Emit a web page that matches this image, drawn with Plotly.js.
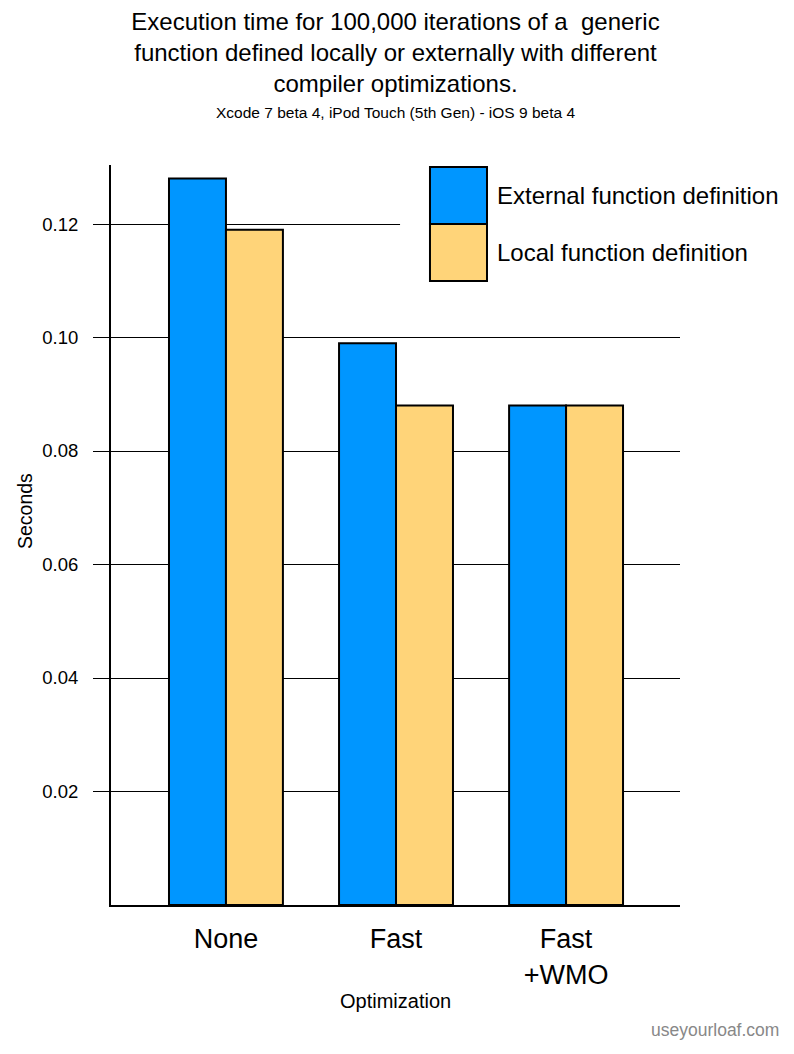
<!DOCTYPE html>
<html>
<head>
<meta charset="utf-8">
<script src="https://cdn.plot.ly/plotly-3.0.1.min.js"></script>
<style>
  body { margin: 0; background: #fff; }
  #chart { width: 794px; height: 1054px; }
</style>
</head>
<body>
<div id="chart"></div>
<script>
const categories = ["None", "Fast", "Fast<br>+WMO"]
const externalTimes = [0.128, 0.099, 0.088]
const localTimes = [0.119, 0.088, 0.088]
const seriesNames = ["External function definition", "Local function definition"]
const seriesColors = ["#0096ff", "#ffd479"]
const yTicks = [0.02, 0.04, 0.06, 0.08, 0.10, 0.12]

const font = "Liberation Sans, Arial, sans-serif"

const data = [externalTimes, localTimes].map((vals, i) => ({
  type: "bar",
  x: categories,
  y: vals,
  name: seriesNames[i],
  marker: { color: seriesColors[i], line: { color: "#000", width: 2 } },
  hoverinfo: "y",
}))

// legend drawn by hand, big square swatches like the original
const shapes = [
  // white patch hides the gridline behind the legend
  { type: "rect", xref: "paper", yref: "paper", x0: 0.508, x1: 1.2, y0: 0.83, y1: 0.999,
    fillcolor: "#fff", line: { width: 0 }, layer: "above" },
]
const annotations = []
seriesNames.forEach((name, i) => {
  const top = 0.9973 - i * 0.077
  shapes.push({
    type: "rect", xref: "paper", yref: "paper",
    x0: 0.5606, x1: 0.6608, y0: top - 0.077, y1: top,
    fillcolor: seriesColors[i], line: { color: "#000", width: 2 },
  })
  annotations.push({
    xref: "paper", yref: "paper", x: 0.675, y: top - 0.0385,
    xanchor: "left", yanchor: "middle", showarrow: false,
    text: name, font: { family: font, size: 24, color: "#000" },
  })
})
annotations.push({
  xref: "paper", yref: "paper", x: 0.5, y: 1.0703, showarrow: false,
  text: "Xcode 7 beta 4, iPod Touch (5th Gen) - iOS 9 beta 4",
  font: { family: font, size: 15.5, color: "#000" },
  xanchor: "center", yanchor: "middle",
})
annotations.push({
  xref: "paper", yref: "paper", x: -0.1511, y: 0.5324, showarrow: false,
  text: "Seconds", textangle: -90,
  font: { family: font, size: 19.5, color: "#000" },
  xanchor: "center", yanchor: "middle",
})
annotations.push({
  xref: "paper", yref: "paper", x: 0.5, y: -0.1297, showarrow: false,
  text: "Optimization",
  font: { family: font, size: 20, color: "#000" },
  xanchor: "center", yanchor: "middle",
})
annotations.push({
  xref: "paper", yref: "paper", x: 1.1775, y: -0.1689, showarrow: false,
  text: "useyourloaf.com", font: { family: font, size: 17.5, color: "#888" },
  xanchor: "right", yanchor: "middle",
})

const layout = {
  width: 794,
  height: 1054,
  margin: { l: 111, r: 114, t: 165, b: 149 },
  paper_bgcolor: "#fff",
  plot_bgcolor: "#fff",
  showlegend: false,
  barmode: "group",
  bargap: 0.33,
  bargroupgap: 0,
  title: {
    text: "Execution time for 100,000 iterations of a  generic<br>function defined locally or externally with different<br>compiler optimizations.",
    font: { family: font, size: 24, color: "#000" },
    x: 0.5, xref: "paper", y: 0.9715, yanchor: "middle",
  },
  xaxis: {
    range: [-0.676, 2.67],
    showline: true, linecolor: "#000", linewidth: 2,
    showgrid: false, zeroline: false,
    ticks: "", ticklabelstandoff: 9,
    tickfont: { family: font, size: 27, color: "#000" },
  },
  yaxis: {
    range: [0, 0.1304],
    tickvals: yTicks,
    ticktext: yTicks.map(v => v.toFixed(2)),
    showline: true, linecolor: "#000", linewidth: 2,
    showgrid: true, gridcolor: "#000", gridwidth: 1,
    zeroline: false,
    ticks: "outside", ticklen: 16, tickcolor: "#000", tickwidth: 1,
    ticklabelstandoff: 11,
    tickfont: { family: font, size: 18.5, color: "#000" },
  },
  shapes: shapes,
  annotations: annotations,
}

Plotly.newPlot("chart", data, layout, { displayModeBar: false, staticPlot: true })
</script>
</body>
</html>
